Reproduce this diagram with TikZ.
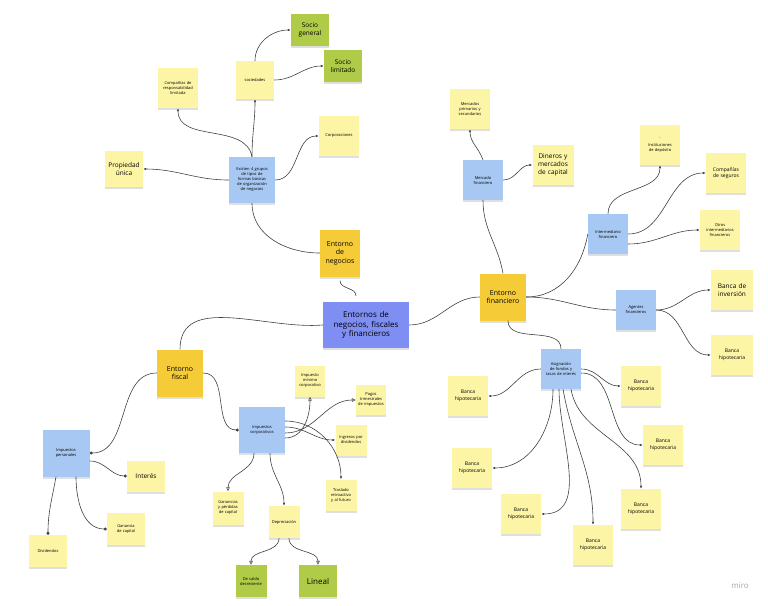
\documentclass[tikz,border=0pt]{standalone}
\usepackage{fontspec}
\setmainfont{Open Sans}
\usetikzlibrary{arrows.meta,shadows}
\definecolor{notey}{HTML}{FDF5A6}
\definecolor{noteb}{HTML}{A7C8F2}
\definecolor{noteg}{HTML}{AFCB48}
\definecolor{noteo}{HTML}{F5CC38}
\definecolor{notep}{HTML}{7F8EF2}
\hyphenpenalty=10000
\exhyphenpenalty=10000
\begin{document}
\begin{tikzpicture}[x=1pt,y=-1pt,
note/.style={minimum width=40pt,minimum height=40pt,inner sep=1pt,align=center,text width=36pt,font=\fontsize{4}{5}\selectfont,
  drop shadow={opacity=0.25,shadow xshift=0pt,shadow yshift=-2pt}},
yellow note/.style={note,fill=notey},
blue note/.style={note,fill=noteb},
green note/.style={note,fill=noteg,minimum width=31pt,minimum height=32pt},
gold note/.style={note,fill=noteo,minimum width=46pt,minimum height=47pt,font=\fontsize{7}{8.5}\selectfont},
big/.style={font=\fontsize{6.5}{8}\selectfont},
link/.style={draw=black!75,line width=0.6pt},
arrow/.style={link,-{Latex[length=3pt,width=2.5pt]}},
open arrow/.style={link,-{Triangle[open,length=4pt,width=3.5pt]}},
dot arrow/.style={link,-{Circle[length=3pt]}}]

\useasboundingbox (0,0) rectangle (768,605);

%root and main topics
\node[note,fill=notep,minimum width=86pt,minimum height=46pt,text width=80pt,font=\fontsize{8}{9.5}\selectfont] (root) at (366,325) {Entornos de negocios, fiscales y financieros};
\node[gold note,minimum width=40pt] (negocios) at (340,253) {Entorno de negocios};
\node[gold note] (financiero) at (503,297) {Entorno financiero};
\node[gold note] (fiscal) at (180,373) {Entorno fiscal};

%negocios
\node[blue note,minimum width=46pt,minimum height=46pt] (formas) at (252,180) {Existen 4 grupos de tipos de formas básicas de organización de negocios};
\node[yellow note,minimum width=35pt,minimum height=36pt,big] (propiedad) at (124,169) {Propiedad única};
\node[yellow note] (limitada) at (178,88) {Compañías de responsabilidad limitada};
\node[yellow note,minimum width=36pt,minimum height=38pt] (sociedades) at (255,80) {sociedades};
\node[green note,big] (general) at (310,30) {Socio general};
\node[green note,big] (limitado) at (343,66) {Socio limitado};
\node[yellow note] (corporaciones) at (339,136) {Corporaciones};

%financiero
\node[blue note] (mercado) at (483,180) {Mercado financiero};
\node[yellow note] (primarios) at (470,109) {Mercados primarios y secundarios};
\node[yellow note,big,minimum width=41pt] (dineros) at (553,165) {Dineros y mercados de capital};
\node[blue note] (intermediario) at (608,234) {Intermediario financiero};
\node[yellow note] (deposito) at (660,145) {-\\[2pt]Instituciones de depósito};
\node[yellow note,font=\fontsize{5}{6.5}\selectfont] (seguros) at (726,173) {Compañías de seguros};
\node[yellow note] (otros) at (720,230) {Otros intermediarios financieros};
\node[blue note] (agentes) at (636,310) {Agentes financieros};
\node[yellow note,big,minimum width=42pt] (inversion) at (732,290) {Banca de inversión};
\node[yellow note,font=\fontsize{5}{6.5}\selectfont,minimum width=42pt] (hipo) at (732,355) {Banca hipotecaria};
\node[blue note] (asignacion) at (561,369) {Asignación de fondos y tasas de interés};
\foreach \n/\x/\y in {a/468/396, b/641/386, c/663/445, d/472/468, e/641/509, f/521/514, g/593/545}
  \node[yellow note,font=\fontsize{5}{6.5}\selectfont] (hipo\n) at (\x,\y) {Banca hipotecaria};

%fiscal
\node[blue note,minimum width=47pt,minimum height=47pt] (personales) at (66,453) {Impuestos personales};
\node[yellow note,big,minimum width=32pt,minimum height=31pt] (interes) at (146,476) {Interés};
\node[yellow note,minimum width=31pt,minimum height=32pt] (ganancia) at (126,529) {Ganancia de capital};
\node[yellow note,minimum width=31pt,minimum height=32pt] (dividendos) at (48,551) {Dividendos};
\node[blue note,minimum width=46pt,minimum height=46pt] (corporativos) at (262,430) {Impuestos corporativos};
\node[yellow note,minimum width=30pt,minimum height=31pt,text width=28pt] (minimo) at (310,381) {Impuesto mínimo corporativo};
\node[yellow note,minimum width=30pt,minimum height=30pt,text width=28pt] (pagos) at (371,400) {Pagos trimestrales de impuestos};
\node[yellow note,minimum width=31pt,minimum height=31pt,text width=28pt] (ingresos) at (351,440) {Ingresos por dividendos};
\node[yellow note,minimum width=31pt,minimum height=31pt,text width=28pt] (traslado) at (341,495) {Traslado retroactivo y al futuro};
\node[yellow note,minimum width=31pt,minimum height=33pt,text width=28pt] (perdidas) at (228,508) {Ganancias y pérdidas de capital};
\node[yellow note,minimum width=31pt,minimum height=32pt,text width=28pt] (depreciacion) at (284,522) {Depreciación};
\node[green note,text width=28pt] (saldo) at (251,581) {De saldo decreciente};
\node[green note,font=\fontsize{8}{9}\selectfont] (lineal) at (318,581) {Lineal};

%root links
\draw[link] (root.west) to[out=185,in=90] (fiscal.north);
\draw[link] (root.east) to[out=0,in=180] (financiero.west);
\draw[link] (root.north) ++(-10,-6) to[out=90,in=-90] ([yshift=-4pt]negocios.south);
\draw[link] (negocios.west) to[out=180,in=-90] (formas.south);
\draw[link] (financiero.north) to[out=100,in=-90] (mercado.south);
\draw[link] (financiero.east) to[out=0,in=-100] (intermediario.west);
\draw[link] (financiero.east) to[out=0,in=180] (agentes.west);
\draw[link] ([xshift=5pt]financiero.south) to[out=-90,in=90] (asignacion.north);
\draw[dot arrow] (fiscal.west) to[out=180,in=0] (personales.east);
\draw[dot arrow] (fiscal.east) to[out=0,in=180] (corporativos.west);

%negocios links
\draw[arrow] (formas.west) to[out=180,in=0] (propiedad.east);
\draw[arrow] (formas.north) to[out=100,in=-90] (limitada.south);
\draw[arrow] (formas.north) to[out=90,in=-90] (sociedades.south);
\draw[arrow] (formas.east) to[out=0,in=180] (corporaciones.west);
\draw[arrow] (sociedades.north) to[out=90,in=180] (general.west);
\draw[arrow] (sociedades.east) to[out=0,in=180] (limitado.west);

%financiero links
\draw[arrow] (mercado.north) to[out=110,in=-90] (primarios.south);
\draw[arrow] (mercado.east) to[out=0,in=180] (dineros.west);
\draw[arrow] (intermediario.north) to[out=90,in=-90] (deposito.south);
\draw[arrow] (intermediario.east) to[out=0,in=180] (seguros.west);
\draw[arrow] (intermediario.east) ++(0,10) to[out=0,in=180] (otros.west);
\draw[arrow] (agentes.east) to[out=0,in=180] (inversion.west);
\draw[arrow] (agentes.east) to[out=0,in=180] (hipo.west);
\draw[arrow] (asignacion.west) to[out=180,in=0] (hipoa.east);
\draw[arrow] (asignacion.east) to[out=0,in=180] (hipob.west);
\draw[arrow] ([yshift=-4pt]asignacion.east) to[out=0,in=180] (hipoc.west);
\draw[arrow] ([xshift=-8pt]asignacion.south) to[out=-90,in=0] (hipod.east);
\draw[arrow] ([xshift=10pt]asignacion.south) to[out=-80,in=90] (hipoe.north);
\draw[arrow] ([xshift=-2pt]asignacion.south) to[out=-90,in=0] (hipof.east);
\draw[arrow] ([xshift=2pt]asignacion.south) to[out=-80,in=90] (hipog.north);

%fiscal links
\draw[dot arrow] (personales.east) ++(0,8) to[out=0,in=180] (interes.west);
\draw[dot arrow] ([xshift=10pt]personales.south) to[out=-90,in=180] (ganancia.west);
\draw[dot arrow] ([xshift=-10pt]personales.south) to[out=-100,in=90] (dividendos.north);
\draw[open arrow] ([yshift=-8pt]corporativos.east) to[out=0,in=-90] (minimo.south);
\draw[open arrow] ([yshift=-3pt]corporativos.east) to[out=0,in=180] (pagos.west);
\draw[arrow] ([yshift=3pt]corporativos.east) to[out=0,in=180] (ingresos.west);
\draw[arrow] ([yshift=9pt]corporativos.east) to[out=0,in=90] (traslado.north);
\draw[open arrow] ([xshift=-8pt]corporativos.south) to[out=-90,in=90] (perdidas.north);
\draw[arrow] ([xshift=8pt]corporativos.south) to[out=-90,in=90] (depreciacion.north);
\draw[open arrow] ([xshift=-5pt]depreciacion.south) to[out=-90,in=90] (saldo.north);
\draw[open arrow] ([xshift=5pt]depreciacion.south) to[out=-90,in=90] (lineal.north);

\node[text=black!35,font=\fontsize{8}{9}\selectfont] (miro) at (740,586) {miro};
\end{tikzpicture}
\end{document}
